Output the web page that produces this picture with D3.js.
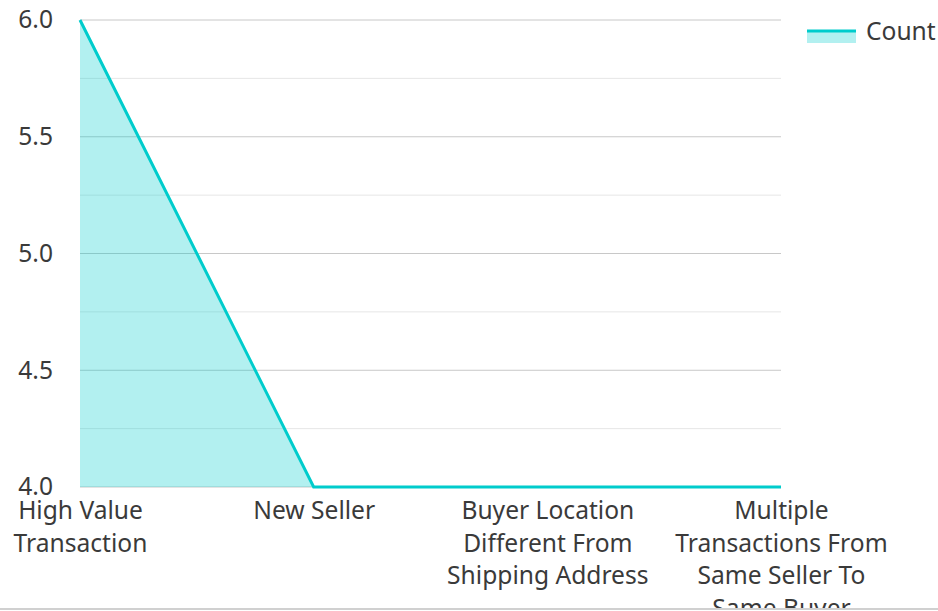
<!DOCTYPE html>
<html>
<head>
<meta charset="utf-8">
<script src="https://cdn.jsdelivr.net/npm/d3@7"></script>
<style>
  body { margin: 0; background: #fff; font-family: "Noto Sans", "Open Sans", sans-serif; }
  #chart { width: 938px; height: 608px; overflow: hidden; border-bottom: 2px solid #d0d0d0; }
  svg { display: block; }
</style>
</head>
<body>
<div id="chart"></div>
<script>
// --- Data ---
const categories = [
    "High Value Transaction",
    "New Seller",
    "Buyer Location Different From Shipping Address",
    "Multiple Transactions From Same Seller To Same Buyer"
];
const counts = [6, 4, 4, 4];
const seriesName = "Count";
const yTicks = [4.0, 4.5, 5.0, 5.5, 6.0];
const yMinorTicks = [4.25, 4.75, 5.25, 5.75];

// Chart dimensions
const width = 938, height = 608;
const margin = { top: 20, right: 157, bottom: 121, left: 80 };
const innerW = width - margin.left - margin.right;
const innerH = height - margin.top - margin.bottom;

const lineColor = "#00cccc";
const fontStack = "'Noto Sans', 'Open Sans', sans-serif";
const fontSize = 24.6;

const svg = d3.select("#chart").append("svg")
    .attr("width", width)
    .attr("height", height);

const g = svg.append("g").attr("transform", `translate(${margin.left}, ${margin.top})`);

// Scales
const xScale = d3.scalePoint().domain(categories).range([0, innerW]);
const yScale = d3.scaleLinear().domain([4, 6]).range([innerH, 0]);

// Gridlines (minor lighter, major darker)
g.append("g").selectAll("line.minor").data(yMinorTicks).join("line")
    .attr("class", "minor")
    .attr("x1", 0).attr("x2", innerW)
    .attr("y1", d => yScale(d)).attr("y2", d => yScale(d))
    .attr("stroke", "#e6e6e6").attr("stroke-width", 1);
g.append("g").selectAll("line.major").data(yTicks).join("line")
    .attr("class", "major")
    .attr("x1", 0).attr("x2", innerW)
    .attr("y1", d => yScale(d)).attr("y2", d => yScale(d))
    .attr("stroke", "#c8c8c8").attr("stroke-width", 1);

// Area + line
const points = categories.map((c, i) => ({ cat: c, value: counts[i] }));
const area = d3.area()
    .x(d => xScale(d.cat))
    .y0(yScale(4))
    .y1(d => yScale(d.value));
const line = d3.line()
    .x(d => xScale(d.cat))
    .y(d => yScale(d.value));

g.append("path").datum(points)
    .attr("d", area)
    .attr("fill", lineColor)
    .attr("fill-opacity", 0.3);
g.append("path").datum(points)
    .attr("d", line)
    .attr("fill", "none")
    .attr("stroke", lineColor)
    .attr("stroke-width", 3);

// Y axis labels
const yAxis = d3.axisLeft(yScale).tickValues(yTicks).tickFormat(d3.format(".1f")).tickSize(0).tickPadding(27);
const yAxisG = g.append("g").call(yAxis);
yAxisG.select(".domain").remove();
yAxisG.selectAll("text")
    .attr("font-family", fontStack)
    .attr("font-size", fontSize)
    .attr("fill", "#3a3a3a");

// X axis labels (wrapped)
const xAxis = d3.axisBottom(xScale).tickSize(0).tickPadding(0);
const xAxisG = g.append("g").attr("transform", `translate(0, ${innerH})`).call(xAxis);
xAxisG.select(".domain").remove();
xAxisG.selectAll("text")
    .attr("font-family", fontStack)
    .attr("font-size", fontSize)
    .attr("fill", "#3a3a3a")
    .call(wrap, 218);

function wrap(texts, maxWidth) {
    texts.each(function () {
        const text = d3.select(this);
        const words = text.text().split(/\s+/);
        text.text(null);
        let lineWords = [];
        let lineNo = 0;
        let tspan = text.append("tspan").attr("x", 0).attr("y", 32);
        words.forEach(w => {
            lineWords.push(w);
            tspan.text(lineWords.join(" "));
            if (tspan.node().getComputedTextLength() > maxWidth && lineWords.length > 1) {
                lineWords.pop();
                tspan.text(lineWords.join(" "));
                lineWords = [w];
                lineNo++;
                tspan = text.append("tspan").attr("x", 0).attr("y", 32 + lineNo * 32.5).text(w);
            }
        });
        text.attr("dy", null);
    });
}

// Legend
const legend = svg.append("g").attr("transform", "translate(807, 31)");
legend.append("rect")
    .attr("x", 0).attr("y", 0)
    .attr("width", 49).attr("height", 12)
    .attr("fill", lineColor).attr("fill-opacity", 0.3);
legend.append("line")
    .attr("x1", 0).attr("x2", 49)
    .attr("y1", 0).attr("y2", 0)
    .attr("stroke", lineColor).attr("stroke-width", 3);
legend.append("text")
    .attr("x", 59).attr("y", 0).attr("dy", "0.35em")
    .attr("font-family", fontStack)
    .attr("font-size", fontSize)
    .attr("fill", "#3a3a3a")
    .text(seriesName);
</script>
</body>
</html>
